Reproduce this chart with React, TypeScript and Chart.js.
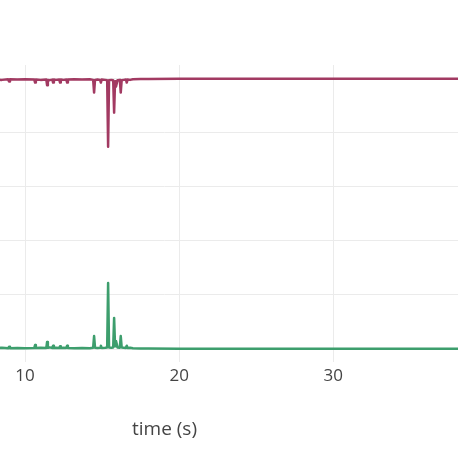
import React, { useEffect, useRef } from "react";
import { Chart, registerables } from "chart.js";

Chart.register(...registerables);

const times = [
  0, 2, 4, 6, 8, 8.5, 8.9, 8.96, 9.02, 9.5, 10.0, 10.6, 10.65, 10.7, 11.0,
  11.38, 11.43, 11.48, 11.6, 11.77, 11.82, 11.87, 12.0, 12.22, 12.27, 12.32,
  12.5, 12.68, 12.73, 12.78, 13.2, 13.7, 14.2, 14.42, 14.48, 14.54, 14.7,
  14.87, 14.92, 14.97, 15.2, 15.33, 15.39, 15.45, 15.6, 15.72, 15.78, 15.84,
  15.9, 16.0, 16.15, 16.21, 16.27, 16.4, 16.55, 16.6, 16.65, 16.82, 17.0,
  17.5, 18, 20, 25, 30, 35, 38.1,
];

const greenValues = [
  0.004, 0.003, 0.004, 0.003, 0.004, 0.005, 0.003, 0.008, 0.003, 0.004,
  0.003, 0.004, 0.015, 0.004, 0.005, 0.004, 0.026, 0.005, 0.006, 0.004,
  0.012, 0.004, 0.005, 0.004, 0.01, 0.004, 0.005, 0.004, 0.012, 0.004,
  0.003, 0.004, 0.003, 0.005, 0.048, 0.005, 0.004, 0.005, 0.012, 0.004,
  0.005, 0.006, 0.244, 0.006, 0.005, 0.006, 0.115, 0.01, 0.03, 0.006,
  0.005, 0.048, 0.006, 0.005, 0.004, 0.012, 0.004, 0.005, 0.003, 0.002,
  0.002, 0.001, 0.001, 0.001, 0.001, 0.001,
];

const redValues = [
  0.996, 0.997, 0.996, 0.997, 0.996, 0.995, 0.997, 0.989, 0.997, 0.996,
  0.997, 0.996, 0.985, 0.996, 0.995, 0.996, 0.975, 0.995, 0.994, 0.996,
  0.985, 0.996, 0.995, 0.996, 0.985, 0.996, 0.995, 0.996, 0.985, 0.996,
  0.997, 0.996, 0.997, 0.995, 0.948, 0.995, 0.996, 0.995, 0.985, 0.996,
  0.995, 0.994, 0.748, 0.994, 0.995, 0.994, 0.874, 0.99, 0.97, 0.994,
  0.995, 0.948, 0.994, 0.995, 0.996, 0.985, 0.996, 0.995, 0.997, 0.998,
  0.998, 0.999, 0.999, 0.999, 0.999, 0.999,
];

const xTickStep = 10;
const yTickStep = 0.2;

export default function App() {
  const ref = useRef<HTMLCanvasElement | null>(null);

  useEffect(() => {
    if (!ref.current) return;
    const toPoints = (vals: number[]) => times.map((t, i) => ({ x: t, y: vals[i] }));
    const chart = new Chart(ref.current, {
      type: "line",
      data: {
        datasets: [
          {
            label: "red",
            data: toPoints(redValues),
            borderColor: "#a23a62",
            borderWidth: 2.5,
            borderJoinStyle: "round",
            borderCapStyle: "round",
            pointRadius: 0,
            tension: 0,
          },
          {
            label: "green",
            data: toPoints(greenValues),
            borderColor: "#3d9e6d",
            borderWidth: 2.5,
            borderJoinStyle: "round",
            borderCapStyle: "round",
            pointRadius: 0,
            tension: 0,
          },
        ],
      },
      options: {
        animation: false,
        responsive: false,
        maintainAspectRatio: false,
        layout: { padding: { left: 0, right: 16, top: 65, bottom: 0 } },
        plugins: { legend: { display: false }, tooltip: { enabled: false } },
        scales: {
          x: {
            type: "linear",
            min: 0,
            max: 38.1,
            border: { display: false },
            grid: { color: "#ebebeb", lineWidth: 1, drawTicks: false },
            ticks: {
              stepSize: xTickStep,
              includeBounds: false,
              padding: 4,
              color: "#444",
              font: { family: "Open Sans", size: 17 },
              maxRotation: 0,
            },
            title: {
              display: true,
              text: "time (s)",
              color: "#444",
              font: { family: "Open Sans", size: 19 },
              padding: { top: 0, bottom: 33 },
            },
            afterFit: (scale: any) => {
              scale.height = 112;
              scale.paddingLeft = 0;
              scale.paddingRight = 0;
            },
          },
          y: {
            type: "linear",
            min: -0.048,
            max: 1.05,
            border: { display: false },
            grid: { color: "#ebebeb", lineWidth: 1, drawTicks: false },
            ticks: { display: false, stepSize: yTickStep, includeBounds: false },
            afterFit: (scale: any) => {
              scale.width = 0;
              scale.paddingTop = 0;
              scale.paddingBottom = 0;
            },
          },
        },
      },
    });
    return () => chart.destroy();
  }, []);

  return (
    <div style={{ position: "fixed", left: -129, top: 0, width: 603, height: 474, background: "#fff" }}>
      <canvas ref={ref} width={603} height={474} style={{ display: "block" }} />
    </div>
  );
}
